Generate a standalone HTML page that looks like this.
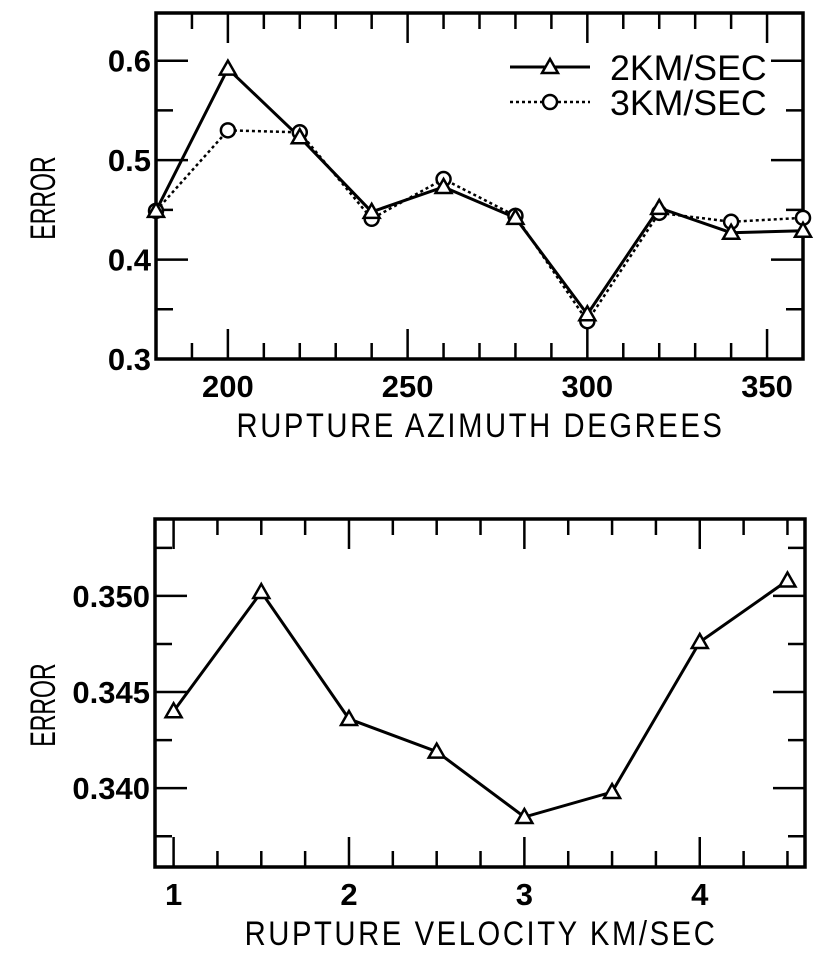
<!DOCTYPE html>
<html><head><meta charset="utf-8"><style>
html,body{margin:0;padding:0;background:#fff;}
svg{display:block;}
text{font-family:"Liberation Sans",sans-serif;fill:#000;}
</style></head><body>
<svg id="chart" width="829" height="955" viewBox="0 0 829 955" xmlns="http://www.w3.org/2000/svg"></svg>
<script>
const azimuths=[180,200,220,240,260,280,300,320,340,360];
const err2km=[0.449,0.592,0.523,0.448,0.473,0.442,0.345,0.452,0.427,0.429];
const err3km=[0.449,0.530,0.528,0.441,0.481,0.444,0.338,0.447,0.438,0.442];
const topXTicks=[200,250,300,350];
const topYTicks=[0.3,0.4,0.5,0.6];
const velocities=[1,1.5,2,2.5,3,3.5,4,4.5];
const errVel=[0.3440,0.3502,0.3436,0.3419,0.3385,0.3398,0.3476,0.3508];
const botXTicks=[1,2,3,4];
const botYTicks=[0.340,0.345,0.350];

const svg=document.getElementById('chart');
const NS='http://www.w3.org/2000/svg';
function el(tag,attrs,parent){const e=document.createElementNS(NS,tag);for(const k in attrs)e.setAttribute(k,attrs[k]);(parent||svg).appendChild(e);return e;}
function txt(s,attrs,parent){const t=el('text',attrs,parent);t.textContent=s;return t;}

function panel(o){
  const g=el('g',{});
  
  
  const X=v=>o.L+(v-o.x0)/(o.x1-o.x0)*(o.R-o.L);
  const Y=v=>o.B-(v-o.y0)/(o.y1-o.y0)*(o.B-o.T);
  const fr=el('rect',{x:o.L,y:o.T,width:o.R-o.L,height:o.B-o.T,fill:'none',stroke:'#000','stroke-width':3.5},g);
  
  
  const xs=Math.ceil(o.x0/o.xMinor-1e-9), xe=Math.floor(o.x1/o.xMinor+1e-9);
  for(let k=xs;k<=xe;k++){const v=k*o.xMinor;
    const major=Math.abs(v/o.xMajor-Math.round(v/o.xMajor))<1e-6;
    const len=major?30:16,x=X(v);
    el('line',{x1:x,y1:o.B,x2:x,y2:o.B-len,stroke:'#000','stroke-width':2.5},g);
    el('line',{x1:x,y1:o.T,x2:x,y2:o.T+len,stroke:'#000','stroke-width':2.5},g);}
  const ys=Math.ceil(o.y0/o.yMinor-1e-6), ye=Math.floor(o.y1/o.yMinor+1e-6);
  for(let k=ys;k<=ye;k++){const v=k*o.yMinor;
    const major=Math.abs(v/o.yMajor-Math.round(v/o.yMajor))<1e-4;
    const len=major?32:17,y=Y(v);
    el('line',{x1:o.L,y1:y,x2:o.L+len,y2:y,stroke:'#000','stroke-width':2.5},g);
    el('line',{x1:o.R,y1:y,x2:o.R-len,y2:y,stroke:'#000','stroke-width':2.5},g);}
  o.xt.forEach(v=>{const t=txt(String(v),{x:X(v),y:o.B+38,'text-anchor':'middle','font-size':31,'font-weight':'bold'},g);
    });
  o.yt.forEach(v=>{const t=txt(v.toFixed(o.yDec),{x:o.L-5,y:Y(v)+11,'text-anchor':'end','font-size':31,'font-weight':'bold'},g);
    });
  const cx=(o.L+o.R)/2+1;
  const xt=txt(o.xTitle,{x:cx,y:o.B+78,'text-anchor':'middle','font-size':34,'letter-spacing':'3',transform:`translate(${cx},0) scale(0.86,1) translate(${-cx},0)`},g);
  
  const cy=(o.T+o.B)/2+12;
  const yt=txt('ERROR',{x:0,y:0,'text-anchor':'middle','font-size':35,transform:`translate(55,${cy}) rotate(-90) scale(0.66,1)`},g);
  
  return {g,X,Y};
}
function tri(g,x,y){return el('path',{d:`M${x} ${y-8} L${x+8} ${y+6} L${x-8} ${y+6} Z`,fill:'#fff',stroke:'#000','stroke-width':2.5},g);}
function circ(g,x,y){return el('circle',{cx:x,cy:y,r:7,fill:'#fff',stroke:'#000','stroke-width':2.5},g);}

// top panel
const p1=panel({name:'azimuth-panel',L:156,R:803,T:13,B:359,x0:180,x1:360,y0:0.3,y1:0.648,xMinor:10,xMajor:50,yMinor:0.05,yMajor:0.1,xt:topXTicks,yt:topYTicks,yDec:1,xTitle:'RUPTURE AZIMUTH DEGREES'});
const l3=el('polyline',{points:azimuths.map((a,i)=>p1.X(a)+','+p1.Y(err3km[i])).join(' '),fill:'none',stroke:'#000','stroke-width':2.5,'stroke-dasharray':'3,3'},p1.g);


const l2=el('polyline',{points:azimuths.map((a,i)=>p1.X(a)+','+p1.Y(err2km[i])).join(' '),fill:'none',stroke:'#000','stroke-width':3},p1.g);


azimuths.forEach((a,i)=>{const m=circ(p1.g,p1.X(a),p1.Y(err3km[i]));
  
  });
azimuths.forEach((a,i)=>{const m=tri(p1.g,p1.X(a),p1.Y(err2km[i]));
  
  });
// legend
const lg=el('g',{},p1.g);


el('line',{x1:510,y1:67,x2:590,y2:67,stroke:'#000','stroke-width':3},lg);
tri(lg,550,67);
const t1=txt('2KM/SEC',{x:610,y:80,'font-size':35,transform:'translate(610,0) scale(1.02,1) translate(-610,0)'},lg);


el('line',{x1:510,y1:102,x2:590,y2:102,stroke:'#000','stroke-width':2.5,'stroke-dasharray':'3,3'},lg);
circ(lg,550,102);
const t2=txt('3KM/SEC',{x:610,y:115,'font-size':35,transform:'translate(610,0) scale(1.02,1) translate(-610,0)'},lg);



// bottom panel
const p2=panel({name:'velocity-panel',L:155,R:805,T:519,B:867,x0:0.894,x1:4.6,y0:0.3359,y1:0.3540,xMinor:0.25,xMajor:1,yMinor:0.0025,yMajor:0.005,xt:botXTicks,yt:botYTicks,yDec:3,xTitle:'RUPTURE VELOCITY KM/SEC'});
const lv=el('polyline',{points:velocities.map((v,i)=>p2.X(v)+','+p2.Y(errVel[i])).join(' '),fill:'none',stroke:'#000','stroke-width':3},p2.g);


velocities.forEach((v,i)=>{const m=tri(p2.g,p2.X(v),p2.Y(errVel[i]));
  
  });
</script>
</body></html>
